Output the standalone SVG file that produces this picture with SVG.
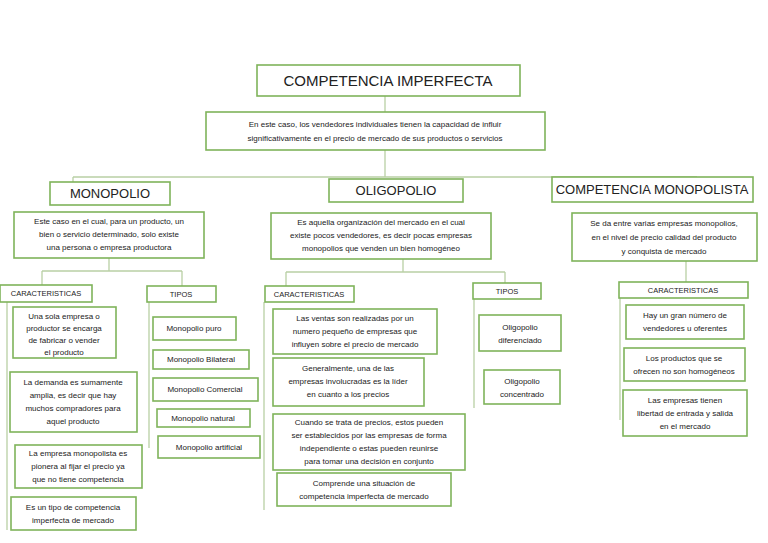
<svg xmlns="http://www.w3.org/2000/svg" width="768" height="543" viewBox="0 0 768 543">
<style>
rect{fill:#fff;stroke:#7fb35a;stroke-width:1.6}
.c line{stroke:#b9cfa4;stroke-width:1.3}
text{font-family:"Liberation Sans",Arial,sans-serif;fill:#222;text-anchor:middle;font-size:8px}
.h{font-size:13px}
.t{font-size:15px}
.s{font-size:7.5px}
</style>
<rect x="0" y="0" width="768" height="543" style="fill:#fff;stroke:none"/>
<g class="c">
<line x1="385" y1="96" x2="385" y2="112"/>
<line x1="385" y1="150" x2="385" y2="177"/>
<line x1="73" y1="177" x2="697" y2="177"/>
<line x1="73" y1="177" x2="73" y2="182"/>
<line x1="697" y1="177" x2="697" y2="177"/>
<line x1="109" y1="258" x2="109" y2="271"/>
<line x1="42" y1="271" x2="182" y2="271"/>
<line x1="42" y1="271" x2="42" y2="285"/>
<line x1="182" y1="271" x2="182" y2="286"/>
<line x1="7" y1="302" x2="7" y2="530"/>
<line x1="149" y1="302" x2="149" y2="448"/>
<line x1="403" y1="259" x2="403" y2="272"/>
<line x1="286" y1="272" x2="505" y2="272"/>
<line x1="286" y1="272" x2="286" y2="286"/>
<line x1="505" y1="272" x2="505" y2="283"/>
<line x1="264" y1="302" x2="264" y2="510"/>
<line x1="474" y1="299" x2="474" y2="408"/>
<line x1="686" y1="261" x2="686" y2="282"/>
<line x1="620" y1="298" x2="620" y2="420"/>
</g>
<g id="root"><rect x="257" y="65" width="263" height="31"/><text class="t" x="388" y="86">COMPETENCIA IMPERFECTA</text></g>
<g id="def"><rect x="206" y="112" width="339" height="38"/><text x="375" y="127">En este caso, los vendedores individuales tienen la capacidad de influir</text><text x="375" y="141">significativamente en el precio de mercado de sus productos o servicios</text></g>

<g id="mono"><rect x="50" y="182" width="120" height="23"/><text class="h" x="110" y="198">MONOPOLIO</text></g>
<g id="monodesc"><rect x="14" y="212" width="190" height="46"/><text x="109" y="224">Este caso en el cual, para un producto, un</text><text x="109" y="237">bien o servicio determinado, solo existe</text><text x="109" y="250">una persona o empresa productora</text></g>
<g id="mcar"><rect x="0" y="285" width="92" height="17"/><text class="s" x="46" y="296">CARACTERISTICAS</text></g>
<g id="mtip"><rect x="147" y="286" width="69" height="16"/><text class="s" x="181" y="297">TIPOS</text></g>
<g id="mc1"><rect x="13" y="307" width="103" height="51"/><text x="64" y="319">Una sola empresa o</text><text x="64" y="331">productor se encarga</text><text x="64" y="343">de fabricar o vender</text><text x="64" y="355">el producto</text></g>
<g id="mc2"><rect x="10" y="372" width="127" height="60"/><text x="73" y="385">La demanda es sumamente</text><text x="73" y="398">amplia, es decir que hay</text><text x="73" y="411">muchos compradores para</text><text x="73" y="424">aquel producto</text></g>
<g id="mc3"><rect x="15" y="445" width="127" height="43"/><text x="78" y="456">La empresa monopolista es</text><text x="78" y="469">pionera al fijar el precio ya</text><text x="78" y="482">que no tiene competencia</text></g>
<g id="mc4"><rect x="11" y="497" width="125" height="33"/><text x="73" y="510">Es un tipo de competencia</text><text x="73" y="523">imperfecta de mercado</text></g>
<g id="mt1"><rect x="153" y="317" width="83" height="23"/><text x="194" y="331">Monopolio puro</text></g>
<g id="mt2"><rect x="153" y="350" width="96" height="19"/><text x="201" y="362">Monopolio Bilateral</text></g>
<g id="mt3"><rect x="153" y="378" width="105" height="23"/><text x="205" y="392">Monopolio Comercial</text></g>
<g id="mt4"><rect x="157" y="409" width="93" height="18"/><text x="203" y="421">Monopolio natural</text></g>
<g id="mt5"><rect x="158" y="436" width="102" height="22"/><text x="209" y="450">Monopolio artificial</text></g>

<g id="oli"><rect x="329" y="179" width="134" height="23"/><text class="h" x="396" y="195">OLIGOPOLIO</text></g>
<g id="olidesc"><rect x="271" y="213" width="220" height="46"/><text x="381" y="225">Es aquella organización del mercado en el cual</text><text x="381" y="238">existe pocos vendedores, es decir pocas empresas</text><text x="381" y="251">monopolios que venden un bien homogéneo</text></g>
<g id="ocar"><rect x="265" y="286" width="89" height="16"/><text class="s" x="309" y="297">CARACTERISTICAS</text></g>
<g id="otip"><rect x="473" y="283" width="68" height="16"/><text class="s" x="507" y="294">TIPOS</text></g>
<g id="oc1"><rect x="273" y="309" width="164" height="45"/><text x="355" y="321">Las ventas son realizadas por un</text><text x="355" y="334">numero pequeño de empresas que</text><text x="355" y="347">influyen sobre el precio de mercado</text></g>
<g id="oc2"><rect x="273" y="358" width="151" height="48"/><text x="348" y="371">Generalmente, una de las</text><text x="348" y="384">empresas involucradas es la líder</text><text x="348" y="397">en cuanto a los precios</text></g>
<g id="oc3"><rect x="273" y="414" width="192" height="56"/><text x="369" y="425">Cuando se trata de precios, estos pueden</text><text x="369" y="438">ser establecidos por las empresas de forma</text><text x="369" y="451">independiente o estas pueden reunirse</text><text x="369" y="464">para tomar una decisión en conjunto</text></g>
<g id="oc4"><rect x="277" y="473" width="174" height="33"/><text x="364" y="486">Comprende una situación de</text><text x="364" y="499">competencia imperfecta de mercado</text></g>
<g id="ot1"><rect x="479" y="315" width="82" height="36"/><text x="520" y="330">Oligopolio</text><text x="520" y="343">diferenciado</text></g>
<g id="ot2"><rect x="484" y="370" width="76" height="34"/><text x="522" y="384">Oligopolio</text><text x="522" y="397">concentrado</text></g>

<g id="cm"><rect x="552" y="177" width="201" height="25"/><text class="h" x="652" y="194">COMPETENCIA MONOPOLISTA</text></g>
<g id="cmdesc"><rect x="572" y="213" width="185" height="48"/><text x="664" y="226">Se da entre varias empresas monopolios,</text><text x="664" y="240">en el nivel de precio calidad del producto</text><text x="664" y="254">y conquista de mercado</text></g>
<g id="ccar"><rect x="619" y="282" width="129" height="16"/><text class="s" x="683" y="293">CARACTERISTICAS</text></g>
<g id="cc1"><rect x="626" y="305" width="118" height="34"/><text x="685" y="318">Hay un gran número de</text><text x="685" y="331">vendedores u oferentes</text></g>
<g id="cc2"><rect x="624" y="348" width="121" height="33"/><text x="684" y="361">Los productos que se</text><text x="684" y="374">ofrecen no son homogéneos</text></g>
<g id="cc3"><rect x="623" y="390" width="124" height="46"/><text x="685" y="403">Las empresas tienen</text><text x="685" y="416">libertad de entrada y salida</text><text x="685" y="429">en el mercado</text></g>
</svg>
